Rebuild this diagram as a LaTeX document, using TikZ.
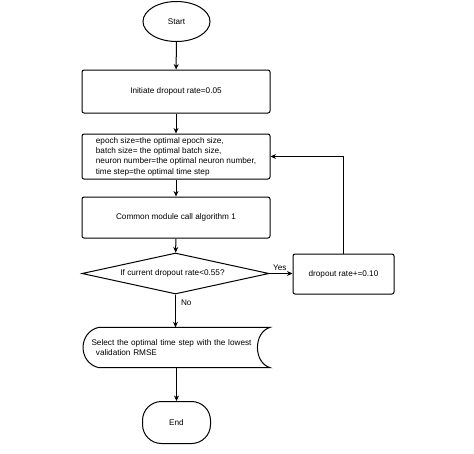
\documentclass[tikz,border=0pt]{standalone}
\usepackage{fontspec}
\setmainfont{Liberation Sans}
\usetikzlibrary{shapes.geometric,arrows.meta,calc}
\begin{document}
\begin{tikzpicture}[x=1pt,y=-1pt,
  every node/.style={font=\fontsize{8.2}{10.3}\selectfont},
  box/.style={draw,line width=1pt,rounded corners=2pt,minimum width=188pt,inner sep=0pt},
  arr/.style={draw,line width=1pt,-{Stealth[length=5.5pt,width=5pt]}},
  ln/.style={line width=1pt}]
\useasboundingbox[fill=white] (0,0) rectangle (474,453);
\node[draw,ln,ellipse,minimum width=67pt,minimum height=40pt,inner sep=0pt] (start) at (176.5,21.5) {Start};
\node[box,minimum height=43pt] (init) at (176,91.5) {Initiate dropout rate=0.05};
\node[box,minimum height=45pt,align=left] (params) at (176,156.5) {epoch size=the optimal epoch size,\\batch size= the optimal batch size,\\neuron number=the optimal neuron number,\\time step=the optimal time step};
\node[box,minimum height=41pt] (common) at (176,217.5) {Common module call algorithm 1};
\node[draw,ln,diamond,minimum width=187pt,minimum height=41pt,inner sep=0pt] (dec) at (175.5,273.5) {\makebox[0pt]{\hspace{-6pt}If current dropout rate<0.55?}};
\node[box,minimum width=101pt,minimum height=40pt] (yesbox) at (343.5,274) {dropout rate+=0.10};
\node[minimum width=187pt,minimum height=40pt,inner xsep=8.5pt,inner ysep=0pt,text width=170pt,align=left,font=\fontsize{8.2}{9.6}\selectfont] (sel) at (176.5,347.5) {Select the optimal time step with the lowest\\\hspace{4.4pt}validation RMSE};
\draw[ln] ($(sel.north west)+(16,0)$) -- (sel.north east)
  .. controls +(-17,5) and +(-17,-5) .. (sel.south east)
  -- ($(sel.south west)+(16,0)$)
  .. controls +(-21,-5) and +(-21,5) .. ($(sel.north west)+(16,0)$) -- cycle;
\node[draw,ln,rounded corners=19pt,minimum width=68pt,minimum height=42pt,inner sep=0pt] (end) at (176.5,422.5) {End};
\draw[arr] (start) -- (init);
\draw[arr] (init) -- (params);
\draw[arr] (params) -- (common);
\draw[arr] (common) -- (dec);
\draw[arr] (dec.east) -- node[above,pos=0.45,inner sep=2pt] {Yes} (dec.east -| yesbox.west);
\draw[arr] (dec.south) -- node[right,pos=0.25,inner sep=5pt] {No} (sel.north -| dec.south);
\draw[arr] (sel.south -| end.north) -- (end.north);
\draw[arr] (yesbox.north) |- (params.east);
\end{tikzpicture}
\end{document}
